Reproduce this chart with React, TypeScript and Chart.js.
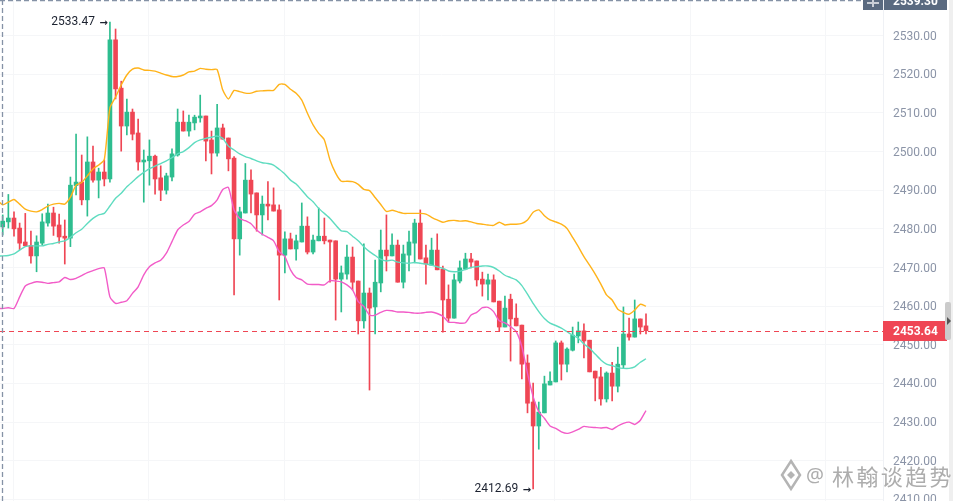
import { useEffect, useRef } from 'react'
import { Chart, registerables } from 'chart.js'
Chart.register(...registerables)

const GREEN = '#2ebd8f'
const RED = '#ef4654'
const AXIS_TEXT = '#8b94a7'
const SLATE = '#5a6a80'

const open = [2480.5,2481.8,2482.8,2480.2,2476.6,2475.7,2473.0,2476.3,2481.5,2484.1,2481.0,2478.1,2477.6,2491.2,2492.1,2487.5,2497.3,2492.6,2494.7,2492.9,2528.9,2516.4,2506.6,2510.2,2504.8,2497.3,2497.6,2498.8,2493.2,2490.0,2493.4,2499.1,2507.6,2505.3,2507.4,2508.7,2509.2,2503.0,2499.6,2506.1,2503.5,2498.3,2477.4,2484.1,2492.6,2489.3,2483.6,2486.4,2486.2,2484.9,2473.2,2477.4,2474.8,2476.6,2480.7,2474.0,2476.9,2478.1,2477.1,2476.9,2467.0,2468.3,2472.7,2466.5,2456.2,2463.4,2459.8,2466.0,2474.5,2473.0,2475.8,2466.2,2473.2,2476.3,2481.5,2472.5,2470.6,2474.5,2469.6,2461.8,2456.9,2466.5,2469.6,2472.2,2471.7,2467.0,2465.7,2466.8,2461.3,2454.6,2461.8,2456.9,2455.1,2445.3,2435.2,2429.0,2432.4,2439.6,2440.4,2450.5,2445.0,2448.6,2452.3,2453.6,2451.2,2443.2,2441.7,2436.0,2442.7,2439.3,2444.8,2452.8,2452.0,2456.7,2454.9]
const high = [2483.6,2488.9,2484.4,2481.5,2484.0,2479.4,2478.2,2483.9,2486.4,2485.6,2483.8,2482.3,2493.4,2504.5,2499.1,2503.8,2501.4,2495.7,2497.8,2533.5,2531.7,2518.2,2513.6,2511.0,2508.4,2500.4,2503.0,2499.1,2496.3,2494.4,2500.7,2511.0,2510.5,2509.4,2509.4,2514.6,2509.2,2505.3,2512.2,2507.1,2503.5,2498.7,2485.6,2496.9,2495.3,2489.3,2488.5,2492.2,2490.6,2486.2,2479.2,2478.9,2478.4,2486.7,2483.1,2478.4,2485.4,2482.8,2477.1,2476.9,2470.4,2475.8,2475.3,2466.5,2476.1,2464.7,2471.9,2479.7,2483.6,2478.7,2477.1,2475.8,2479.4,2482.5,2484.9,2475.8,2477.6,2478.7,2470.4,2465.5,2468.3,2471.7,2473.7,2473.7,2471.7,2468.8,2468.3,2468.1,2461.3,2462.6,2463.1,2460.6,2455.1,2447.4,2440.1,2435.2,2441.9,2443.0,2451.0,2451.0,2449.2,2454.6,2455.9,2455.4,2451.2,2443.2,2444.2,2443.0,2445.5,2449.4,2459.8,2456.9,2461.6,2456.7,2458.0]
const low = [2478.4,2480.2,2478.1,2474.6,2475.6,2471.1,2468.9,2475.8,2480.7,2478.3,2476.3,2470.9,2475.4,2488.8,2486.2,2483.3,2492.1,2488.0,2491.1,2492.1,2513.6,2500.1,2504.3,2503.0,2495.2,2486.9,2491.3,2489.0,2487.3,2489.0,2492.4,2498.8,2505.3,2504.0,2505.6,2507.6,2497.6,2494.2,2498.8,2503.2,2495.0,2462.9,2473.2,2484.1,2484.1,2479.4,2478.4,2482.3,2484.6,2461.6,2468.6,2474.8,2471.9,2476.6,2473.5,2473.5,2476.9,2476.1,2466.2,2456.4,2458.5,2467.0,2464.2,2452.8,2454.3,2438.3,2452.8,2463.7,2469.1,2473.0,2466.2,2464.7,2469.1,2471.2,2472.2,2465.7,2470.6,2469.4,2453.3,2455.9,2456.9,2466.0,2469.4,2469.9,2465.2,2462.6,2461.6,2461.1,2453.6,2454.6,2445.8,2454.9,2441.2,2432.4,2412.7,2423.0,2432.4,2439.6,2440.4,2440.9,2443.0,2448.4,2450.5,2446.6,2443.0,2435.5,2434.4,2435.2,2435.5,2437.8,2444.0,2451.2,2452.0,2452.8,2452.8]
const close = [2482.0,2482.8,2480.0,2476.3,2475.6,2473.0,2476.6,2481.8,2484.1,2480.7,2477.9,2477.6,2491.3,2492.1,2487.5,2497.3,2492.6,2494.7,2492.9,2528.9,2516.2,2506.6,2510.2,2504.5,2497.3,2497.8,2498.8,2492.9,2490.0,2493.7,2499.4,2507.6,2505.3,2507.6,2508.9,2509.2,2502.7,2499.6,2506.1,2503.2,2498.1,2477.4,2484.4,2492.6,2489.0,2483.6,2486.4,2485.9,2484.6,2473.2,2477.4,2474.8,2476.9,2480.7,2474.0,2477.1,2478.1,2476.9,2476.6,2467.0,2468.6,2472.7,2466.2,2456.2,2463.4,2459.5,2466.2,2474.5,2473.0,2475.8,2466.2,2473.5,2476.6,2481.5,2472.2,2470.9,2474.5,2469.4,2461.6,2456.9,2466.8,2469.9,2472.2,2471.4,2466.8,2465.7,2466.8,2461.1,2454.6,2459.5,2456.7,2454.9,2445.0,2434.9,2429.0,2432.6,2439.9,2440.6,2450.5,2445.0,2448.9,2452.5,2453.6,2451.0,2443.0,2441.4,2436.0,2442.7,2439.3,2445.0,2452.8,2452.0,2456.7,2454.6,2453.64]

// bands start one candle left of the first bar, just off the canvas
const upperBand = [2487.5,2486.2,2486.9,2487.6,2486.4,2485.1,2484.6,2484.4,2485.0,2485.9,2486.4,2486.6,2486.4,2488.2,2491.3,2492.0,2493.7,2495.5,2496.5,2497.9,2511.3,2514.1,2517.2,2519.8,2521.3,2521.6,2521.1,2521.0,2520.8,2520.3,2519.8,2519.4,2519.4,2519.8,2520.6,2520.8,2521.5,2521.3,2521.2,2521.2,2515.9,2513.6,2515.8,2515.5,2515.1,2515.1,2515.6,2515.7,2515.8,2515.8,2517.4,2517.4,2516.1,2515.1,2513.3,2509.9,2506.9,2504.7,2503.0,2497.8,2494.4,2492.3,2492.3,2492.2,2491.5,2490.2,2489.9,2488.1,2486.3,2484.5,2484.8,2484.4,2484.0,2484.0,2484.0,2484.0,2483.8,2483.0,2482.3,2481.7,2482.1,2482.2,2482.0,2482.1,2481.8,2481.4,2481.2,2481.0,2480.9,2481.7,2481.0,2481.2,2481.2,2481.4,2482.3,2484.3,2484.9,2483.4,2482.3,2481.8,2481.2,2480.1,2477.8,2475.4,2472.8,2470.6,2468.3,2465.7,2462.9,2461.6,2459.2,2458.4,2457.9,2459.0,2460.5,2460.0]
const midBand = [2473.0,2473.0,2473.1,2473.5,2474.5,2475.4,2475.6,2475.6,2475.6,2476.0,2476.2,2476.6,2476.9,2477.8,2479.0,2479.9,2481.4,2482.7,2483.6,2484.0,2485.9,2487.9,2489.2,2490.9,2492.2,2493.5,2494.6,2495.6,2496.2,2496.9,2497.6,2498.4,2499.4,2500.0,2501.0,2502.3,2503.0,2503.4,2503.7,2504.0,2503.4,2501.4,2500.4,2499.4,2498.7,2498.2,2497.6,2497.1,2496.9,2496.5,2495.4,2494.2,2492.6,2491.6,2490.0,2488.3,2487.0,2485.3,2484.0,2482.7,2481.0,2479.5,2479.3,2478.1,2476.9,2475.4,2474.1,2473.1,2472.1,2471.7,2471.9,2471.4,2471.2,2471.1,2471.3,2471.1,2470.9,2470.6,2470.2,2469.8,2469.1,2468.9,2469.0,2469.5,2470.0,2470.2,2470.4,2470.4,2470.0,2469.1,2468.0,2467.4,2466.8,2465.3,2463.1,2460.7,2458.6,2456.8,2455.6,2455.0,2454.3,2453.4,2452.5,2451.7,2450.2,2449.1,2447.6,2446.1,2445.0,2444.6,2444.1,2443.9,2443.9,2444.3,2445.5,2446.4]
const lowerBand = [2459.4,2459.4,2459.6,2459.4,2462.4,2465.2,2465.9,2466.3,2466.2,2465.9,2466.1,2466.3,2467.4,2466.9,2467.2,2467.9,2468.7,2469.2,2469.7,2469.9,2462.4,2460.7,2461.0,2461.4,2463.3,2465.0,2468.1,2470.2,2471.2,2471.9,2473.7,2476.7,2479.7,2481.0,2481.9,2483.8,2484.4,2485.3,2486.0,2487.5,2490.2,2490.7,2484.9,2482.7,2482.1,2481.3,2479.7,2478.6,2477.8,2476.9,2474.1,2472.8,2469.4,2467.4,2466.8,2465.7,2465.6,2465.6,2465.5,2466.6,2466.5,2466.3,2465.5,2464.2,2461.2,2459.9,2457.7,2457.7,2458.4,2458.9,2458.8,2458.5,2458.5,2458.4,2458.2,2458.2,2458.4,2458.5,2458.1,2457.4,2455.9,2455.8,2455.6,2455.7,2457.7,2458.4,2459.6,2459.7,2458.6,2456.2,2455.7,2454.7,2453.4,2449.5,2442.6,2436.6,2432.7,2431.0,2429.0,2428.4,2427.5,2427.1,2427.5,2428.1,2428.9,2428.7,2428.6,2428.5,2428.6,2428.1,2429.0,2429.7,2430.0,2429.4,2430.5,2433.0]

const yTicks = [2530,2520,2510,2500,2490,2480,2470,2460,2450,2440,2430,2420,2410]
const xGridAt = [1.85,25.85,49.85,73.85,97.85,121.85,145.85]
const lastPrice = 2453.64
const crosshairPrice = '2539.30'
const highLabel = { index: 19, price: 2533.47 }
const lowLabel = { index: 94, price: 2412.69 }
const watermark = '林翰谈趋势'

const colors = open.map((o, i) => (close[i] >= o ? GREEN : RED))

function priceMark(ctx: any, x: number, y: number, price: number) {
  ctx.fillStyle = '#1c2230'
  ctx.textAlign = 'right'
  ctx.textBaseline = 'middle'
  ctx.font = '12px Roboto'
  ctx.fillText(price.toFixed(2), x - 15, y)
  ctx.font = 'bold 10px "DejaVu Sans"'
  ctx.fillText('→', x - 2, y + 1)
}

const overlay = {
  id: 'overlay',
  afterDraw(chart: any) {
    const { ctx, scales } = chart
    const x = scales.x
    const y = scales.y
    const right = chart.chartArea.right
    const lastY = y.getPixelForValue(lastPrice)
    ctx.save()

    // last price line
    ctx.strokeStyle = RED
    ctx.lineWidth = 1
    ctx.setLineDash([5, 4])
    ctx.beginPath()
    ctx.moveTo(0, Math.round(lastY) + 0.5)
    ctx.lineTo(right, Math.round(lastY) + 0.5)
    ctx.stroke()

    // crosshair
    ctx.strokeStyle = '#8592a6'
    ctx.lineWidth = 1.3
    ctx.setLineDash([5, 3])
    ctx.beginPath()
    ctx.moveTo(0, 0.5)
    ctx.lineTo(863, 0.5)
    ctx.moveTo(2.5, 0)
    ctx.lineTo(2.5, 501)
    ctx.stroke()
    ctx.setLineDash([])

    // high / low markers
    priceMark(ctx, x.getPixelForValue(highLabel.index), y.getPixelForValue(highLabel.price), highLabel.price)
    priceMark(ctx, x.getPixelForValue(lowLabel.index), y.getPixelForValue(lowLabel.price), lowLabel.price)

    // price tag
    ctx.fillStyle = RED
    ctx.fillRect(right, Math.round(lastY) - 10, 64, 20)
    ctx.fillStyle = '#fff'
    ctx.font = 'bold 12px Roboto'
    ctx.textAlign = 'left'
    ctx.fillText(lastPrice.toFixed(2), right + 10, lastY + 1)

    // crosshair tag, cut by the top edge
    ctx.fillStyle = SLATE
    ctx.fillRect(863, 0, 20, 10)
    ctx.fillRect(884, 0, 63, 10)
    ctx.fillStyle = '#fff'
    ctx.textBaseline = 'alphabetic'
    ctx.fillText(crosshairPrice, right + 10, 4.5)
    ctx.fillStyle = '#c9ced6'
    ctx.fillRect(872, 0, 2, 7)
    ctx.fillRect(867, 2, 12, 2)

    // right hand strip and handle
    ctx.fillStyle = '#efefef'
    ctx.fillRect(949, 0, 4, 501)
    ctx.fillStyle = '#cbcbcb'
    ctx.beginPath()
    ctx.roundRect(945, 302, 6, 38, 2)
    ctx.fill()
    ctx.fillStyle = '#555'
    ctx.beginPath()
    ctx.moveTo(947, 317)
    ctx.lineTo(951, 321)
    ctx.lineTo(947, 325)
    ctx.fill()

    // watermark
    ctx.shadowColor = 'rgba(255,255,255,.95)'
    ctx.shadowBlur = 3
    ctx.strokeStyle = '#b4b4b4'
    ctx.lineWidth = 2.5
    ctx.beginPath()
    ctx.moveTo(791, 461)
    ctx.lineTo(800, 475)
    ctx.lineTo(791, 489)
    ctx.lineTo(782, 475)
    ctx.closePath()
    ctx.stroke()
    ctx.fillStyle = '#b4b4b4'
    ctx.beginPath()
    ctx.moveTo(791, 471)
    ctx.lineTo(795, 475)
    ctx.lineTo(791, 479)
    ctx.lineTo(787, 475)
    ctx.fill()
    ctx.fillStyle = '#adadad'
    ctx.textBaseline = 'middle'
    ctx.font = '20px "Noto Sans"'
    ctx.fillText('@', 806, 476)
    ctx.font = '22px "Noto Sans CJK SC"'
    ctx.letterSpacing = '2.4px'
    ctx.fillText(watermark, 832, 477)
    ctx.restore()
  },
}

export default function App() {
  const ref = useRef<HTMLCanvasElement>(null)

  useEffect(() => {
    if (!ref.current) return
    const band = (values: number[], color: string) => ({
      type: 'line' as const,
      data: values.map((v, i) => ({ x: i - 1, y: v })),
      borderColor: color,
      borderWidth: 1.4,
      pointRadius: 0,
      tension: 0.2,
      order: 0,
    })
    const chart = new Chart(ref.current, {
      type: 'bar',
      data: {
        datasets: [
          band(upperBand, '#ffb31a'),
          band(midBand, '#5fdcc0'),
          band(lowerBand, '#f25cc8'),
          {
            data: open.map((o, i) => ({ x: i, y: [o, close[i]] })),
            backgroundColor: colors,
            barThickness: 4,
            grouped: false,
            order: 1,
          },
          {
            data: high.map((h, i) => ({ x: i, y: [low[i], h] })),
            backgroundColor: colors,
            barThickness: 1,
            grouped: false,
            order: 2,
          },
        ] as any,
      },
      options: {
        responsive: false,
        animation: false,
        devicePixelRatio: 1,
        layout: { padding: 0 },
        plugins: { legend: { display: false }, tooltip: { enabled: false } },
        scales: {
          x: {
            type: 'linear',
            offset: false,
            min: -0.48,
            max: 156,
            grid: { color: '#f5f6f8', offset: false, drawTicks: false },
            border: { display: false },
            ticks: { display: false },
            afterBuildTicks: (axis: any) => { axis.ticks = xGridAt.map(value => ({ value })) },
            afterFit: (axis: any) => { axis.height = 0; axis.paddingLeft = 0; axis.paddingRight = 0 },
          },
          y: {
            position: 'right',
            min: 2409.6,
            max: 2539.2,
            grid: { color: '#f5f6f8', drawTicks: false },
            border: { display: true, color: '#eff1f5' },
            afterBuildTicks: (axis: any) => { axis.ticks = yTicks.map(value => ({ value })) },
            // keep the plot running to the top and bottom edge of the canvas
            afterFit: (axis: any) => { axis.width = 75; axis.paddingTop = 0; axis.paddingBottom = 0 },
            ticks: {
              color: AXIS_TEXT,
              padding: 10,
              labelOffset: 1,
              font: { family: 'Roboto', size: 12 },
              callback: v => Number(v).toFixed(2),
            },
          },
        },
      },
      plugins: [overlay],
    })
    return () => chart.destroy()
  }, [])

  return (
    <div style={{ position: 'absolute', left: 0, top: 0, width: 958, height: 501, background: '#fff' }}>
      <canvas ref={ref} width={958} height={501} style={{ display: 'block' }} />
    </div>
  )
}
